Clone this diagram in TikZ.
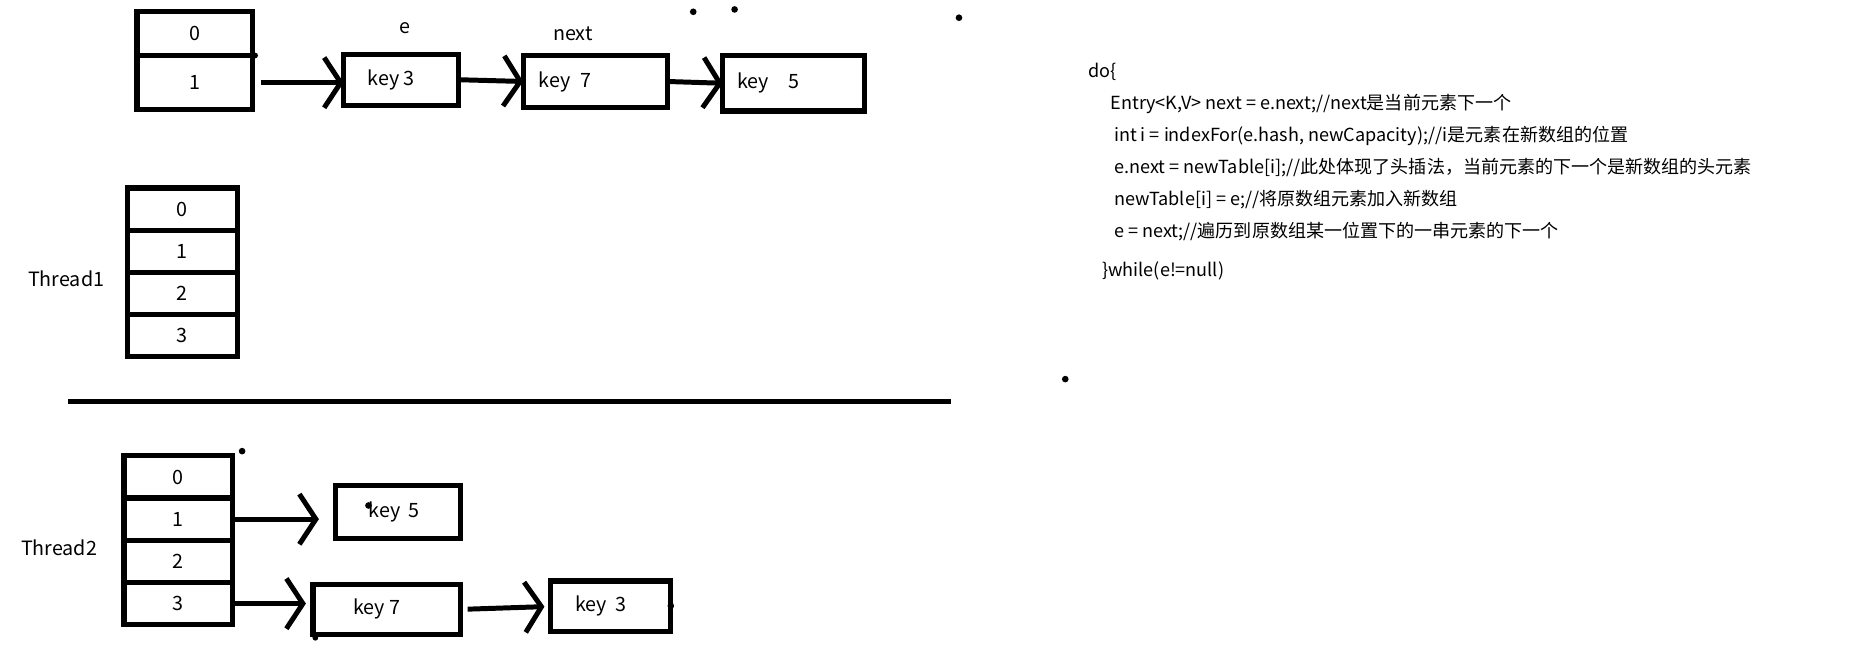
\documentclass[tikz,border=0pt]{standalone}
\usepackage{fontspec}
\setmainfont{Noto Sans CJK SC}
\usetikzlibrary{arrows.meta}

\begin{document}
\begin{tikzpicture}[x=0.02cm,y=-0.02cm,font=\fontsize{9.5}{11}\selectfont,
          cell/.style={draw,line width=2.5pt,outer sep=0pt,inner sep=0pt,minimum width=1.86cm,minimum height=0.715cm},
          keybox/.style={draw,line width=2.5pt,outer sep=0pt,inner sep=0pt},
          link/.style={line width=2.4pt,-{Straight Barb[length=0.28cm,width=0.85cm]}},
          code/.style={anchor=west,inner sep=0pt,font=\fontsize{8.7}{10}\selectfont}]
          \useasboundingbox (0,0) rectangle (1569,560);
          % table before resize
          \node[cell,minimum width=1.96cm,minimum height=0.74cm] (a0) at (165,28.5) {0};
          \node[cell,minimum width=1.96cm,minimum height=0.92cm] (a1) at (165,70) {1};
          \node[keybox,minimum width=1.94cm,minimum height=0.86cm,label={[anchor=west,xshift=0.28cm]west:key 3}] (k3) at (339.5,67.5) {};
          \node[keybox,minimum width=2.44cm,minimum height=0.88cm,label={[anchor=west,xshift=0.14cm]west:key\hspace{0.5em}7}] (k7) at (504,69) {};
          \node[keybox,minimum width=2.4cm,minimum height=0.94cm,label={[anchor=west,xshift=0.12cm]west:key\hspace{1em}5}] (k5) at (672,70.5) {};
          \node (e) at (343,24) {e};
          \node (next) at (485,29) {next};
          \draw[link,shorten <=0.14cm] (a1.east) -- (a1.east -| k3.west);
          \draw[link,shorten <=0.04cm] (k3.east) -- (k7.west);
          \draw[link] (k7.east) -- (k5.west);
          % thread 1
          \node (th1) at (56,236) {Thread1};
          \node[cell] (t0) at (154.5,177) {0};
          \node[cell] (t1) at (154.5,212.75) {1};
          \node[cell] (t2) at (154.5,248.5) {2};
          \node[cell] (t3) at (154.5,284.25) {3};
          % separator
          \coordinate (sepL) at (58,340);
          \coordinate (sepR) at (805,340);
          \draw[line width=2pt] (sepL) -- (sepR);
          % thread 2
          \node (th2) at (50,464) {Thread2};
          \node[cell,minimum width=1.84cm] (u0) at (151,403.9) {0};
          \node[cell,minimum width=1.84cm] (u1) at (151,439.6) {1};
          \node[cell,minimum width=1.84cm] (u2) at (151,475.4) {2};
          \node[cell,minimum width=1.84cm] (u3) at (151,511.1) {3};
          \node[keybox,minimum width=2.12cm,minimum height=0.9cm,label={[anchor=west,xshift=0.44cm]west:key\hspace{0.4em}5}] (m5) at (337,433.5) {};
          \node[keybox,minimum width=2.5cm,minimum height=0.84cm,label={[anchor=west,xshift=0.56cm]west:key 7}] (m7) at (327.5,516) {};
          \node[keybox,minimum width=2.04cm,minimum height=0.86cm,label={[anchor=west,xshift=0.3cm]west:key\hspace{0.4em}3}] (m3) at (517,513.5) {};
          \draw[link,shorten >=0.28cm] (u1.east) -- (u1.east -| m5.west);
          \draw[link,shorten >=0.12cm] (u3.east) -- (u3.east -| m7.west);
          \draw[link,shorten <=0.12cm,shorten >=0.1cm] (m7.east) -- (m3.west);
          % stray pen dots
          \fill (587,10) circle (1.6pt);
          \fill (622,8) circle (1.6pt);
          \fill (812,15) circle (1.6pt);
          \fill (902,321) circle (1.6pt);
          \fill (205,382) circle (1.6pt);
          \fill (312,428) circle (1.6pt);
          \fill (568,513) circle (1.6pt);
          \fill (267,540) circle (1.4pt);
          \fill (216,47) circle (1.4pt);
          % transfer loop
          \node[code] (c0) at (921,61) {do\{};
          \node[code] (c1) at (940,88) {Entry<K,V> next = e.next;//next是当前元素下一个};
          \node[code] (c2) at (943,115) {int i = indexFor(e.hash, newCapacity);//i是元素在新数组的位置};
          \node[code] (c3) at (943,142) {e.next = newTable[i];//此处体现了头插法，当前元素的下一个是新数组的头元素};
          \node[code] (c4) at (943,169) {newTable[i] = e;//将原数组元素加入新数组};
          \node[code] (c5) at (943,196) {e = next;//遍历到原数组某一位置下的一串元素的下一个};
          \node[code] (c6) at (933,229) {\}while(e!=null)};
        \end{tikzpicture}
\end{document}
